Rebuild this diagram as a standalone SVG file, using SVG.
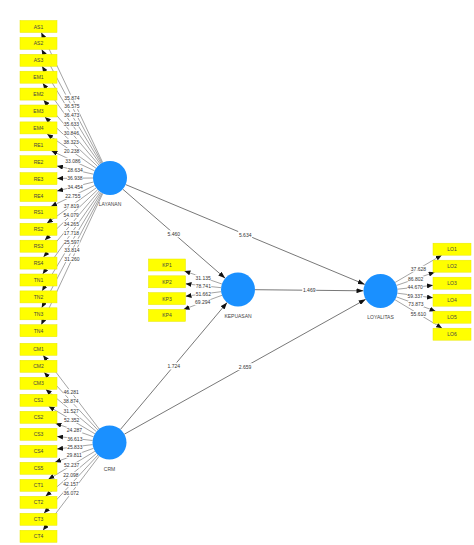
<svg xmlns="http://www.w3.org/2000/svg" width="474" height="545" viewBox="0 0 474 545">
<style>
.bg{fill:#ffffff}
.ind rect{fill:#ffff00;stroke:#e8e800;stroke-width:0.5}
.ind text{font-family:"Liberation Sans",Arial,sans-serif;font-size:5px;fill:#444;text-anchor:middle;dominant-baseline:central}
.lv circle{fill:#1a90ff}
.lv text{font-family:"Liberation Sans",Arial,sans-serif;font-size:5px;fill:#444;text-anchor:middle;dominant-baseline:central}
.ld line{stroke:#666;stroke-width:0.6;marker-end:url(#a)}
.sp line{stroke:#555;stroke-width:0.8;marker-end:url(#b)}
.lb rect{fill:#ffffff}
.lb text{font-family:"Liberation Sans",Arial,sans-serif;font-size:5px;fill:#333;text-anchor:middle;dominant-baseline:central}
</style>
<defs>
<marker id="a" markerUnits="userSpaceOnUse" markerWidth="6" markerHeight="5" refX="6" refY="2.5" orient="auto"><path d="M0,0 L6,2.5 L0,5 z" fill="#111"/></marker>
<marker id="b" markerUnits="userSpaceOnUse" markerWidth="7" markerHeight="5" refX="7" refY="2.5" orient="auto"><path d="M0,0 L7,2.5 L0,5 z" fill="#111"/></marker>
</defs>
<rect class="bg" x="0" y="0" width="474" height="545"/>

<g id="connectors">
<g class="sp">
<line x1="122.8" y1="189.2" x2="225.2" y2="278.3"/>
<line x1="125.7" y1="184.6" x2="364.8" y2="284.4"/>
<line x1="255" y1="289.7" x2="363.5" y2="290.8"/>
<line x1="120.4" y1="429.5" x2="227.1" y2="302.5"/>
<line x1="124.3" y1="434.2" x2="365.7" y2="299.3"/>
</g>
<g class="ld">
<line x1="102.7" y1="162.6" x2="41.3" y2="32.5"/>
<line x1="102.0" y1="163.0" x2="41.7" y2="49.4"/>
<line x1="101.2" y1="163.5" x2="42.1" y2="66.3"/>
<line x1="100.2" y1="164.1" x2="42.8" y2="83.2"/>
<line x1="99.0" y1="165.1" x2="43.6" y2="100.1"/>
<line x1="97.6" y1="166.4" x2="44.9" y2="117.0"/>
<line x1="96.1" y1="168.3" x2="47.1" y2="134.0"/>
<line x1="94.6" y1="170.8" x2="51.4" y2="150.8"/>
<line x1="93.4" y1="174.2" x2="57" y2="165.9"/>
<line x1="93.0" y1="178.0" x2="57" y2="178.4"/>
<line x1="93.5" y1="182.0" x2="57" y2="191.0"/>
<line x1="94.7" y1="185.4" x2="51.0" y2="206.4"/>
<line x1="96.2" y1="187.9" x2="46.9" y2="223.3"/>
<line x1="97.7" y1="189.7" x2="44.8" y2="240.2"/>
<line x1="99.1" y1="191.0" x2="43.5" y2="257.1"/>
<line x1="100.3" y1="191.9" x2="42.7" y2="274.0"/>
<line x1="101.2" y1="192.6" x2="42.1" y2="290.9"/>
<line x1="102.1" y1="193.1" x2="41.7" y2="307.8"/>
<line x1="102.8" y1="193.4" x2="41.3" y2="324.7"/>

<line x1="99.2" y1="429.0" x2="43.1" y2="355.3"/>
<line x1="97.9" y1="430.1" x2="44.1" y2="372.3"/>
<line x1="96.4" y1="431.6" x2="45.7" y2="389.3"/>
<line x1="94.9" y1="433.8" x2="48.6" y2="406.3"/>
<line x1="93.5" y1="436.8" x2="55.4" y2="423.3"/>
<line x1="92.6" y1="440.5" x2="57" y2="436.4"/>
<line x1="92.6" y1="444.6" x2="57" y2="449.0"/>
<line x1="93.5" y1="448.3" x2="55.0" y2="462.3"/>
<line x1="94.9" y1="451.3" x2="48.4" y2="479.3"/>
<line x1="96.5" y1="453.5" x2="45.6" y2="496.3"/>
<line x1="98.0" y1="455.0" x2="44.0" y2="513.3"/>
<line x1="99.2" y1="456.1" x2="43.0" y2="530.3"/>

<line x1="221.9" y1="284.0" x2="184.4" y2="271.0"/>
<line x1="221.1" y1="287.7" x2="185.5" y2="283.8"/>
<line x1="221.1" y1="291.7" x2="185.5" y2="296.2"/>
<line x1="222.0" y1="295.3" x2="183.5" y2="309.4"/>

<line x1="395.2" y1="282.4" x2="441.7" y2="255.2"/>
<line x1="396.6" y1="285.4" x2="434.7" y2="272.2"/>
<line x1="397.4" y1="289.2" x2="433" y2="285.3"/>
<line x1="397.4" y1="293.2" x2="433" y2="297.8"/>
<line x1="396.5" y1="296.9" x2="435.6" y2="311.2"/>
<line x1="395.1" y1="299.8" x2="442.1" y2="328.2"/>
</g>
<g class="lb">
<rect x="166.8" y="230.3" width="14" height="7"/><text x="173.8" y="233.8">5.460</text>
<rect x="238.2" y="231" width="14" height="7"/><text x="245.2" y="234.5">5.634</text>
<rect x="302.2" y="286.7" width="14" height="7"/><text x="309.2" y="290.2">1.469</text>
<rect x="166.8" y="362.5" width="14" height="7"/><text x="173.8" y="366">1.724</text>
<rect x="238" y="363.2" width="14" height="7"/><text x="245" y="366.7">2.659</text>

<rect x="64" y="94.6" width="16" height="6"/><text x="72.0" y="97.6">35.874</text>
<rect x="63.9" y="103.2" width="16" height="6"/><text x="71.9" y="106.2">36.575</text>
<rect x="63.7" y="111.9" width="16" height="6"/><text x="71.7" y="114.9">36.473</text>
<rect x="63.5" y="120.7" width="16" height="6"/><text x="71.5" y="123.7">35.633</text>
<rect x="63.3" y="129.6" width="16" height="6"/><text x="71.3" y="132.6">30.846</text>
<rect x="63.2" y="138.7" width="16" height="6"/><text x="71.2" y="141.7">38.323</text>
<rect x="63.6" y="148.1" width="16" height="6"/><text x="71.6" y="151.1">20.238</text>
<rect x="65" y="157.8" width="16" height="6"/><text x="73.0" y="160.8">33.086</text>
<rect x="67.2" y="167.1" width="16" height="6"/><text x="75.2" y="170.1">28.634</text>
<rect x="67" y="175.3" width="16" height="6"/><text x="75.0" y="178.3">36.938</text>
<rect x="67.2" y="183.5" width="16" height="6"/><text x="75.2" y="186.5">34.454</text>
<rect x="64.8" y="192.9" width="16" height="6"/><text x="72.8" y="195.9">22.755</text>
<rect x="63.5" y="202.6" width="16" height="6"/><text x="71.5" y="205.6">37.819</text>
<rect x="63.2" y="212" width="16" height="6"/><text x="71.2" y="215.0">54.079</text>
<rect x="63.3" y="221" width="16" height="6"/><text x="71.3" y="224.0">34.265</text>
<rect x="63.5" y="230" width="16" height="6"/><text x="71.5" y="233.0">17.718</text>
<rect x="63.7" y="238.7" width="16" height="6"/><text x="71.7" y="241.7">25.597</text>
<rect x="63.9" y="247.4" width="16" height="6"/><text x="71.9" y="250.4">33.814</text>
<rect x="64" y="256.1" width="16" height="6"/><text x="72.0" y="259.1">31.260</text>

<rect x="63.2" y="389.2" width="16" height="6"/><text x="71.2" y="392.2">46.281</text>
<rect x="63" y="398.2" width="16" height="6"/><text x="71.0" y="401.2">38.874</text>
<rect x="63.1" y="407.5" width="16" height="6"/><text x="71.1" y="410.5">31.527</text>
<rect x="63.7" y="417" width="16" height="6"/><text x="71.7" y="420.0">52.352</text>
<rect x="66.4" y="427.1" width="16" height="6"/><text x="74.4" y="430.1">24.287</text>
<rect x="66.8" y="435.5" width="16" height="6"/><text x="74.8" y="438.5">36.613</text>
<rect x="66.8" y="443.8" width="16" height="6"/><text x="74.8" y="446.8">25.833</text>
<rect x="66.3" y="452.3" width="16" height="6"/><text x="74.3" y="455.3">29.811</text>
<rect x="63.7" y="462.3" width="16" height="6"/><text x="71.7" y="465.3">52.237</text>
<rect x="63" y="471.9" width="16" height="6"/><text x="71.0" y="474.9">22.098</text>
<rect x="63" y="481.1" width="16" height="6"/><text x="71.0" y="484.1">42.157</text>
<rect x="63.2" y="490.2" width="16" height="6"/><text x="71.2" y="493.2">36.072</text>

<rect x="195.2" y="274.5" width="16" height="6"/><text x="203.2" y="277.5">31.135</text>
<rect x="195.3" y="282.7" width="16" height="6"/><text x="203.3" y="285.7">78.741</text>
<rect x="195.3" y="290.9" width="16" height="6"/><text x="203.3" y="293.9">51.662</text>
<rect x="194.7" y="299.4" width="16" height="6"/><text x="202.7" y="302.4">69.294</text>

<rect x="410.5" y="265.8" width="16" height="6"/><text x="418.5" y="268.8">37.628</text>
<rect x="407.6" y="275.8" width="16" height="6"/><text x="415.6" y="278.8">86.802</text>
<rect x="407.2" y="284.2" width="16" height="6"/><text x="415.2" y="287.2">44.670</text>
<rect x="407.2" y="292.5" width="16" height="6"/><text x="415.2" y="295.5">59.337</text>
<rect x="408" y="301" width="16" height="6"/><text x="416.0" y="304.0">73.873</text>
<rect x="410.5" y="311" width="16" height="6"/><text x="418.5" y="314.0">55.610</text>
</g>
</g>

<g id="LAYANAN" class="lv"><circle cx="110" cy="178" r="17"/><text x="110" y="204">LAYANAN</text></g>
<g id="CRM" class="lv"><circle cx="109.5" cy="442.5" r="17"/><text x="109.5" y="468.5">CRM</text></g>
<g id="KEPUASAN" class="lv"><circle cx="238" cy="289.5" r="17"/><text x="238" y="316">KEPUASAN</text></g>
<g id="LOYALITAS" class="lv"><circle cx="380.5" cy="291" r="17"/><text x="380.5" y="317">LOYALITAS</text></g>

<g id="AS1" class="ind"><rect x="20" y="20.5" width="37" height="12"/><text x="38.5" y="26.5">AS1</text></g>
<g id="AS2" class="ind"><rect x="20" y="37.4" width="37" height="12"/><text x="38.5" y="43.4">AS2</text></g>
<g id="AS3" class="ind"><rect x="20" y="54.3" width="37" height="12"/><text x="38.5" y="60.3">AS3</text></g>
<g id="EM1" class="ind"><rect x="20" y="71.2" width="37" height="12"/><text x="38.5" y="77.2">EM1</text></g>
<g id="EM2" class="ind"><rect x="20" y="88.1" width="37" height="12"/><text x="38.5" y="94.1">EM2</text></g>
<g id="EM3" class="ind"><rect x="20" y="105" width="37" height="12"/><text x="38.5" y="111">EM3</text></g>
<g id="EM4" class="ind"><rect x="20" y="121.9" width="37" height="12"/><text x="38.5" y="127.9">EM4</text></g>
<g id="RE1" class="ind"><rect x="20" y="138.8" width="37" height="12"/><text x="38.5" y="144.8">RE1</text></g>
<g id="RE2" class="ind"><rect x="20" y="155.7" width="37" height="12"/><text x="38.5" y="161.7">RE2</text></g>
<g id="RE3" class="ind"><rect x="20" y="172.6" width="37" height="12"/><text x="38.5" y="178.6">RE3</text></g>
<g id="RE4" class="ind"><rect x="20" y="189.5" width="37" height="12"/><text x="38.5" y="195.5">RE4</text></g>
<g id="RS1" class="ind"><rect x="20" y="206.4" width="37" height="12"/><text x="38.5" y="212.4">RS1</text></g>
<g id="RS2" class="ind"><rect x="20" y="223.3" width="37" height="12"/><text x="38.5" y="229.3">RS2</text></g>
<g id="RS3" class="ind"><rect x="20" y="240.2" width="37" height="12"/><text x="38.5" y="246.2">RS3</text></g>
<g id="RS4" class="ind"><rect x="20" y="257.1" width="37" height="12"/><text x="38.5" y="263.1">RS4</text></g>
<g id="TN1" class="ind"><rect x="20" y="274" width="37" height="12"/><text x="38.5" y="280">TN1</text></g>
<g id="TN2" class="ind"><rect x="20" y="290.9" width="37" height="12"/><text x="38.5" y="296.9">TN2</text></g>
<g id="TN3" class="ind"><rect x="20" y="307.8" width="37" height="12"/><text x="38.5" y="313.8">TN3</text></g>
<g id="TN4" class="ind"><rect x="20" y="324.7" width="37" height="12"/><text x="38.5" y="330.7">TN4</text></g>

<g id="CM1" class="ind"><rect x="20" y="343.3" width="37" height="12"/><text x="38.5" y="349.3">CM1</text></g>
<g id="CM2" class="ind"><rect x="20" y="360.3" width="37" height="12"/><text x="38.5" y="366.3">CM2</text></g>
<g id="CM3" class="ind"><rect x="20" y="377.3" width="37" height="12"/><text x="38.5" y="383.3">CM3</text></g>
<g id="CS1" class="ind"><rect x="20" y="394.3" width="37" height="12"/><text x="38.5" y="400.3">CS1</text></g>
<g id="CS2" class="ind"><rect x="20" y="411.3" width="37" height="12"/><text x="38.5" y="417.3">CS2</text></g>
<g id="CS3" class="ind"><rect x="20" y="428.3" width="37" height="12"/><text x="38.5" y="434.3">CS3</text></g>
<g id="CS4" class="ind"><rect x="20" y="445.3" width="37" height="12"/><text x="38.5" y="451.3">CS4</text></g>
<g id="CS5" class="ind"><rect x="20" y="462.3" width="37" height="12"/><text x="38.5" y="468.3">CS5</text></g>
<g id="CT1" class="ind"><rect x="20" y="479.3" width="37" height="12"/><text x="38.5" y="485.3">CT1</text></g>
<g id="CT2" class="ind"><rect x="20" y="496.3" width="37" height="12"/><text x="38.5" y="502.3">CT2</text></g>
<g id="CT3" class="ind"><rect x="20" y="513.3" width="37" height="12"/><text x="38.5" y="519.3">CT3</text></g>
<g id="CT4" class="ind"><rect x="20" y="530.3" width="37" height="12"/><text x="38.5" y="536.3">CT4</text></g>

<g id="KP1" class="ind"><rect x="148.5" y="259" width="37" height="12"/><text x="167" y="265">KP1</text></g>
<g id="KP2" class="ind"><rect x="148.5" y="275.8" width="37" height="12"/><text x="167" y="281.8">KP2</text></g>
<g id="KP3" class="ind"><rect x="148.5" y="292.6" width="37" height="12"/><text x="167" y="298.6">KP3</text></g>
<g id="KP4" class="ind"><rect x="148.5" y="309.4" width="37" height="12"/><text x="167" y="315.4">KP4</text></g>

<g id="LO1" class="ind"><rect x="433" y="243.2" width="38" height="12"/><text x="452" y="249.2">LO1</text></g>
<g id="LO2" class="ind"><rect x="433" y="260.2" width="38" height="12"/><text x="452" y="266.2">LO2</text></g>
<g id="LO3" class="ind"><rect x="433" y="277.2" width="38" height="12"/><text x="452" y="283.2">LO3</text></g>
<g id="LO4" class="ind"><rect x="433" y="294.2" width="38" height="12"/><text x="452" y="300.2">LO4</text></g>
<g id="LO5" class="ind"><rect x="433" y="311.2" width="38" height="12"/><text x="452" y="317.2">LO5</text></g>
<g id="LO6" class="ind"><rect x="433" y="328.2" width="38" height="12"/><text x="452" y="334.2">LO6</text></g>
</svg>
